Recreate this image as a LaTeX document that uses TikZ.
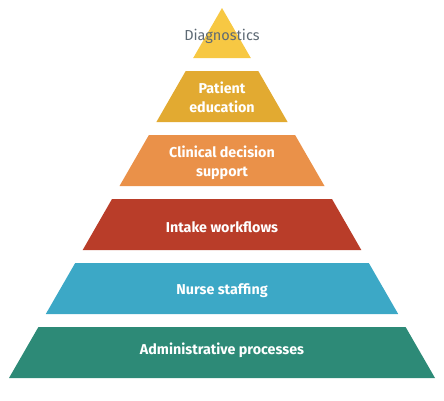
\documentclass[tikz,border=0pt]{standalone}
\usepackage{fontspec}
\setmainfont{Fira Sans}
\definecolor{diagyellow}{HTML}{F7C843}
\definecolor{edugold}{HTML}{E2AA31}
\definecolor{cdsorange}{HTML}{EA9149}
\definecolor{intakered}{HTML}{B93D29}
\definecolor{nurseblue}{HTML}{3CA8C6}
\definecolor{adminteal}{HTML}{2D8A77}
\definecolor{diaggray}{HTML}{5E6A74}

\begin{document}
\begin{tikzpicture}[x=1pt, y=-1pt,
  lbl/.style={text=white, align=center, font=\bfseries\fontsize{14.3}{19}\selectfont}]
  \useasboundingbox (0,0) rectangle (444,400);
  % levels, from the top down
  \fill[diagyellow] (222,8) -- (250.8,58) -- (193.2,58) -- cycle;
  \fill[edugold] (185.7,71) -- (258.3,71) -- (287.6,122) -- (156.4,122) -- cycle;
  \fill[cdsorange] (148.9,135) -- (295.1,135) -- (324.5,186) -- (119.5,186) -- cycle;
  \fill[intakered] (112,199) -- (332,199) -- (361.3,250) -- (82.7,250) -- cycle;
  \fill[nurseblue] (75.2,263) -- (368.8,263) -- (398.2,314) -- (45.8,314) -- cycle;
  \fill[adminteal] (38.4,327) -- (405.6,327) -- (435,378) -- (9,378) -- cycle;
  % labels
  \node[text=diaggray, font=\fontsize{14.5}{17}\selectfont] (diag) at (222,36) {Diagnostics};
  \node[lbl] (edu) at (222,97) {Patient\\education};
  \node[lbl] (cds) at (222,163) {Clinical decision\\support};
  \node[lbl] (intake) at (222,227) {Intake workflows};
  \node[lbl] (nurse) at (222,291) {Nurse staffing};
  \node[lbl] (admin) at (222,350) {Administrative processes};
\end{tikzpicture}
\end{document}
